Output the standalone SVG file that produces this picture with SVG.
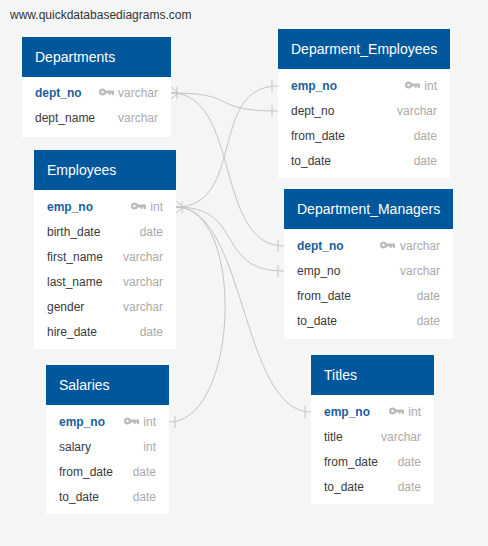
<svg xmlns="http://www.w3.org/2000/svg" width="488" height="546" viewBox="0 0 488 546">
<style>
.bg{fill:#f4f5f5}
.hdr{fill:#01579b}
.body{fill:#ffffff}
.title{font-family:"Liberation Sans",Arial,sans-serif;font-size:14px;fill:#ffffff}
.f{font-family:"Liberation Sans",Arial,sans-serif;font-size:12px;fill:#3a3a3a}
.k{font-family:"Liberation Sans",Arial,sans-serif;font-size:12px;font-weight:bold;fill:#1d5e9e}
.t{font-family:"Liberation Sans",Arial,sans-serif;font-size:12px;fill:#aaaaaa;text-anchor:end}
.site{font-family:"Liberation Sans",Arial,sans-serif;font-size:12px;fill:#333333}
.c{fill:none;stroke:#c4c4c4;stroke-width:1}
</style>
<defs>
<g id="key">
<circle cx="3.5" cy="0" r="3.5" fill="#bbbbbb"/>
<circle cx="3.5" cy="0" r="1.2" fill="#ffffff"/>
<rect x="6" y="-1.5" width="9" height="3" fill="#bbbbbb"/>
<rect x="10" y="0" width="1.6" height="3" fill="#bbbbbb"/>
<rect x="13" y="0" width="2" height="3" fill="#bbbbbb"/>
</g>
</defs>
<rect class="bg" x="0" y="0" width="488" height="546"/>
<text class="site" x="10" y="19">www.quickdatabasediagrams.com</text>

<g id="connectors">
<path class="c" d="M171,93 C241,93 208,111 278,111"/>
<path class="c" d="M171,93 C241,93 214,246 284,246"/>
<path class="c" d="M176,207 C246,207 208,86 278,86"/>
<path class="c" d="M176,207 C246,207 214,271 284,271"/>
<path class="c" d="M176,207 C246,207 239,422 169,422"/>
<path class="c" d="M176,207 C246,207 241,412 311,412"/>
<path class="c" d="M171,87 L178,93 M171,99 L178,93 M171,93 L178,93 M177,87 L177,99"/>
<path class="c" d="M176,201 L183,207 M176,213 L183,207 M176,207 L183,207 M182,201 L182,213"/>
<path class="c" d="M272,80 L272,92 M272,105 L272,117 M278,240 L278,252 M278,265 L278,277 M305,406 L305,418 M175,416 L175,428"/>
</g>

<g id="Departments">
<rect class="body" x="22" y="37" width="149" height="100"/>
<rect class="hdr" x="22" y="37" width="149" height="40"/>
<text class="title" x="35" y="62">Departments</text>
<text class="k" x="35" y="97">dept_no</text>
<use href="#key" x="99" y="92"/>
<text class="t" x="158" y="97">varchar</text>
<text class="f" x="35" y="122">dept_name</text>
<text class="t" x="158" y="122">varchar</text>
</g>

<g id="Deparment_Employees">
<rect class="body" x="278" y="29" width="172" height="149"/>
<rect class="hdr" x="278" y="29" width="172" height="40"/>
<text class="title" x="291" y="54">Deparment_Employees</text>
<text class="k" x="291" y="90">emp_no</text>
<use href="#key" x="405" y="85"/>
<text class="t" x="437" y="90">int</text>
<text class="f" x="291" y="115">dept_no</text>
<text class="t" x="437" y="115">varchar</text>
<text class="f" x="291" y="140">from_date</text>
<text class="t" x="437" y="140">date</text>
<text class="f" x="291" y="165">to_date</text>
<text class="t" x="437" y="165">date</text>
</g>

<g id="Employees">
<rect class="body" x="34" y="150" width="142" height="199"/>
<rect class="hdr" x="34" y="150" width="142" height="40"/>
<text class="title" x="47" y="175">Employees</text>
<text class="k" x="47" y="211">emp_no</text>
<use href="#key" x="131" y="206"/>
<text class="t" x="163" y="211">int</text>
<text class="f" x="47" y="236">birth_date</text>
<text class="t" x="163" y="236">date</text>
<text class="f" x="47" y="261">first_name</text>
<text class="t" x="163" y="261">varchar</text>
<text class="f" x="47" y="286">last_name</text>
<text class="t" x="163" y="286">varchar</text>
<text class="f" x="47" y="311">gender</text>
<text class="t" x="163" y="311">varchar</text>
<text class="f" x="47" y="336">hire_date</text>
<text class="t" x="163" y="336">date</text>
</g>

<g id="Department_Managers">
<rect class="body" x="284" y="189" width="169" height="150"/>
<rect class="hdr" x="284" y="189" width="169" height="40"/>
<text class="title" x="297" y="214">Department_Managers</text>
<text class="k" x="297" y="250">dept_no</text>
<use href="#key" x="380" y="245"/>
<text class="t" x="440" y="250">varchar</text>
<text class="f" x="297" y="275">emp_no</text>
<text class="t" x="440" y="275">varchar</text>
<text class="f" x="297" y="300">from_date</text>
<text class="t" x="440" y="300">date</text>
<text class="f" x="297" y="325">to_date</text>
<text class="t" x="440" y="325">date</text>
</g>

<g id="Salaries">
<rect class="body" x="46" y="365" width="123" height="149"/>
<rect class="hdr" x="46" y="365" width="123" height="40"/>
<text class="title" x="59" y="390">Salaries</text>
<text class="k" x="59" y="426">emp_no</text>
<use href="#key" x="124" y="421"/>
<text class="t" x="156" y="426">int</text>
<text class="f" x="59" y="451">salary</text>
<text class="t" x="156" y="451">int</text>
<text class="f" x="59" y="476">from_date</text>
<text class="t" x="156" y="476">date</text>
<text class="f" x="59" y="501">to_date</text>
<text class="t" x="156" y="501">date</text>
</g>

<g id="Titles">
<rect class="body" x="311" y="355" width="123" height="149"/>
<rect class="hdr" x="311" y="355" width="123" height="40"/>
<text class="title" x="324" y="380">Titles</text>
<text class="k" x="324" y="416">emp_no</text>
<use href="#key" x="389" y="411"/>
<text class="t" x="421" y="416">int</text>
<text class="f" x="324" y="441">title</text>
<text class="t" x="421" y="441">varchar</text>
<text class="f" x="324" y="466">from_date</text>
<text class="t" x="421" y="466">date</text>
<text class="f" x="324" y="491">to_date</text>
<text class="t" x="421" y="491">date</text>
</g>
</svg>
